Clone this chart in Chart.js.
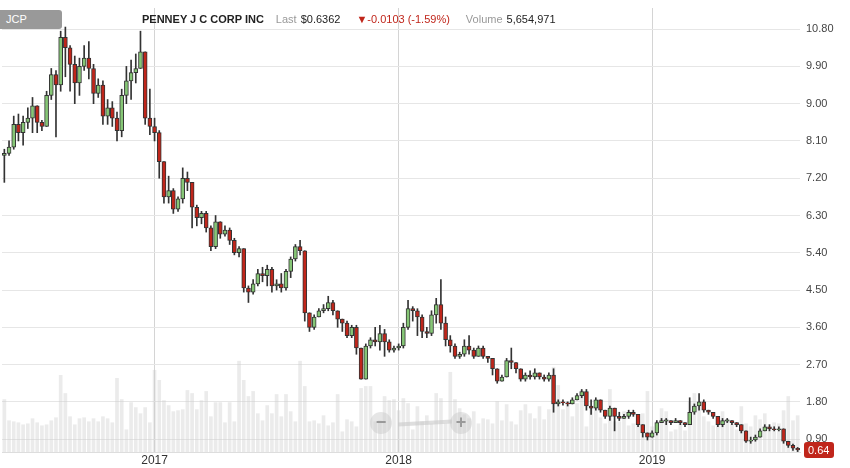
<!DOCTYPE html>
<html>
<head>
<meta charset="utf-8">
<script src="https://cdn.jsdelivr.net/npm/chart.js@4/dist/chart.umd.min.js"></script>
<style>
  body { margin: 0; background: #fff; font-family: "Liberation Sans", Arial, sans-serif; }
  #wrap { position: relative; width: 850px; height: 468px; }
  #hdr { position: absolute; top: 10px; left: 0; width: 850px; height: 20px; font-size: 11px; line-height: 19px; color: #222; pointer-events: none; }
  #tab { position: absolute; left: 0; top: 0; width: 62px; height: 19px; background: #999; color: #fff; border-radius: 0 3px 3px 0; padding-left: 6px; box-sizing: border-box; }
  #info { position: absolute; left: 142px; top: 0; white-space: nowrap; }
  .g { color: #999; margin: 0 4px 0 12px; }
  .dn { color: #c0261b; margin-left: 16px; }
  #zoomctl { position: absolute; left: 370px; top: 412px; width: 110px; height: 24px; pointer-events: none; }
  .zb { position: absolute; top: 0; width: 22px; height: 22px; border-radius: 11px; background: rgba(200,200,200,0.45); color: #999; font-size: 18px; line-height: 21px; text-align: center; font-weight: bold; }
  #bar { position: absolute; left: 28px; top: 9px; width: 54px; height: 4px; background: rgba(200,200,200,0.6); transform: skewY(-3deg); }
</style>
</head>
<body>
<div id="wrap">
  <canvas id="chart" width="850" height="468"></canvas>
  <div id="hdr">
    <div id="tab">JCP</div>
    <div id="info"><b>PENNEY J C CORP INC</b><span class="g">Last</span>$0.6362<span class="dn">▼-0.0103 (-1.59%)</span><span class="g" style="margin-left:16px">Volume</span>5,654,971</div>
  </div>
  <div id="zoomctl"><div class="zb" style="left:0">−</div><div id="bar"></div><div class="zb" style="left:80px">+</div></div>
</div>
<script>
// weekly candles, Jun 2016 - Jul 2019
const closes = [
  7.8,7.95,8.5,8.3,8.55,8.65,8.95,8.55,8.45,9.2,
  9.7,9.45,10.6,10.35,9.95,9.5,9.9,10.1,9.85,9.25,
  9.45,8.7,8.9,8.65,8.35,9.2,9.55,9.75,9.85,10.25,
  8.65,8.45,8.3,7.6,6.75,6.9,6.45,6.7,7.2,7.1,
  6.5,6.25,6.35,6.0,5.55,6.15,5.85,5.95,5.7,5.4,
  5.5,4.55,4.45,4.65,4.9,4.85,5.0,4.6,4.65,4.55,
  4.95,5.25,5.55,5.45,3.95,3.6,3.85,4.0,4.05,4.2,
  4.0,3.8,3.7,3.4,3.6,3.1,2.35,3.15,3.3,3.25,
  3.45,3.25,3.05,3.1,3.15,3.6,4.05,4.0,3.85,3.5,
  3.45,3.9,4.15,3.7,3.3,3.15,2.9,2.95,3.15,3.05,
  2.9,3.1,2.9,2.85,2.6,2.3,2.4,2.8,2.75,2.6,
  2.35,2.45,2.4,2.5,2.4,2.35,2.45,1.75,1.8,1.78,
  1.75,1.85,1.95,2.05,1.7,1.65,1.85,1.6,1.45,1.65,
  1.45,1.4,1.45,1.55,1.5,1.25,1.05,0.95,1.05,1.3,
  1.35,1.35,1.3,1.35,1.3,1.25,1.55,1.7,1.8,1.6,
  1.55,1.45,1.25,1.35,1.35,1.3,1.25,1.1,0.85,0.88,
  0.95,1.1,1.2,1.15,1.13,1.15,0.85,0.75,0.68,0.64
];
const highs = [
  7.9,8.1,8.7,8.75,8.7,8.9,9.15,8.95,8.6,9.3,
  9.85,9.8,10.75,10.85,10.4,10.15,10.1,10.4,10.5,9.95,
  9.6,9.55,9.1,9.05,8.8,9.35,9.9,10.05,10.2,10.75,
  10.25,9.35,8.65,8.35,7.6,7.25,6.95,6.75,7.45,7.35,
  7.1,6.55,6.4,6.4,6.05,6.3,6.15,6.05,6.0,5.75,
  5.55,5.5,4.6,4.75,5.0,5.05,5.1,5.05,4.75,4.9,
  5.0,5.3,5.6,5.7,5.45,3.95,3.9,4.05,4.15,4.35,
  4.25,4.0,3.8,3.75,3.65,3.65,3.1,3.2,3.35,3.6,
  3.65,3.55,3.3,3.15,3.2,3.7,4.25,4.1,4.05,3.9,
  3.6,4.0,4.3,4.75,3.85,3.4,3.2,3.0,3.3,3.4,
  3.1,3.15,3.15,2.9,2.85,2.6,2.45,2.85,3.1,2.75,
  2.6,2.5,2.55,2.6,2.5,2.45,2.5,2.6,1.85,1.85,
  1.8,1.9,2.0,2.1,2.1,1.85,1.9,1.85,1.6,1.7,
  1.65,1.55,1.5,1.6,1.6,1.5,1.25,1.05,1.1,1.35,
  1.4,1.4,1.35,1.4,1.35,1.3,1.9,1.75,2.0,1.85,
  1.6,1.55,1.45,1.4,1.4,1.35,1.3,1.25,1.1,0.95,
  1.0,1.15,1.25,1.25,1.2,1.2,1.15,0.85,0.78,0.7
];
const lows = [
  7.1,7.75,7.9,8.1,8.0,8.4,8.3,8.3,8.35,8.45,
  9.1,8.2,9.3,9.65,9.3,9.0,9.2,9.8,9.6,9.0,
  9.15,8.5,8.5,8.45,8.1,8.2,9.0,9.1,9.5,9.85,
  8.5,8.25,8.1,7.2,6.6,6.6,6.35,6.4,6.6,6.9,
  6.0,6.05,6.1,5.9,5.45,5.5,5.75,5.8,5.6,5.35,
  5.3,4.45,4.2,4.4,4.6,4.7,4.6,4.45,4.5,4.45,
  4.5,4.8,5.2,5.35,3.75,3.5,3.55,3.85,3.95,4.0,
  3.9,3.6,3.5,3.35,3.35,2.95,2.35,2.35,3.1,3.15,
  3.05,2.9,3.0,3.0,3.05,3.1,3.55,3.75,3.4,3.35,
  3.35,3.4,3.7,3.55,3.15,3.0,2.85,2.85,2.9,2.95,
  2.85,2.9,2.85,2.75,2.45,2.25,2.3,2.4,2.6,2.5,
  2.3,2.3,2.35,2.35,2.35,2.3,2.3,1.55,1.7,1.72,
  1.7,1.75,1.85,1.9,1.6,1.5,1.6,1.55,1.4,1.35,
  1.1,1.35,1.4,1.4,1.45,1.2,0.95,0.88,0.95,1.0,
  1.3,1.25,1.25,1.3,1.25,1.2,1.25,1.5,1.6,1.55,
  1.5,1.4,1.2,1.2,1.3,1.25,1.2,1.05,0.82,0.8,
  0.85,0.95,1.1,1.1,1.1,1.1,0.8,0.7,0.63,0.6
];
const firstOpen = 7.75;
// relative weekly volume
const volumes = [
  52,31,30,29,27,28,33,29,26,27,
  31,34,76,58,35,27,33,34,30,33,
  30,35,33,29,73,52,22,49,44,38,
  44,29,81,71,51,46,40,41,42,61,
  58,42,51,60,35,49,49,29,49,30,
  90,71,55,60,38,31,46,38,57,35,
  57,40,30,90,65,30,31,28,36,26,
  29,57,20,32,30,25,63,65,65,30,
  31,55,51,52,41,53,48,22,45,30,
  36,28,58,53,28,79,52,43,37,33,
  40,28,33,32,28,50,31,47,30,27,
  41,47,38,33,45,32,42,84,66,42,
  50,35,48,61,25,45,46,34,28,62,
  30,30,40,26,28,28,38,60,25,30,
  43,40,20,22,28,21,50,58,45,35,
  30,26,30,40,32,28,22,45,28,25,
  36,32,38,22,29,28,41,55,31,36
];
const yearTicks = { 32: '2017', 84: '2018', 138: '2019' };
const priceTicks = [0.90, 1.80, 2.70, 3.60, 4.50, 5.40, 6.30, 7.20, 8.10, 9.00, 9.90, 10.80];

const opens = closes.map((c, i) => i === 0 ? firstOpen : closes[i - 1]);
const labels = closes.map((c, i) => i);
const up = closes.map((c, i) => c >= opens[i]);
const GREEN = '#86c676', RED = '#c0261b';

const lastTag = {
  id: 'lastTag',
  afterDraw(chart) {
    const y = chart.scales.y.getPixelForValue(closes[closes.length - 1]);
    const ctx = chart.ctx, x = chart.chartArea.right + 4;
    ctx.save();
    ctx.fillStyle = RED;
    ctx.beginPath();
    ctx.roundRect(x, y - 8, 30, 16, 3);
    ctx.fill();
    ctx.fillStyle = '#fff';
    ctx.font = '11px "Liberation Sans", Arial';
    ctx.textBaseline = 'middle';
    ctx.fillText(closes[closes.length - 1].toFixed(2), x + 4, y + 1);
    ctx.restore();
  }
};

new Chart(document.getElementById('chart'), {
  type: 'bar',
  data: {
    labels: labels,
    datasets: [
      {
        label: 'Wick',
        data: closes.map((c, i) => [lows[i], highs[i]]),
        backgroundColor: '#333',
        barThickness: 1,
        yAxisID: 'y',
        order: 2
      },
      {
        label: 'Body',
        data: closes.map((c, i) => opens[i] === c ? [c - 0.015, c + 0.015] : [opens[i], c]),
        backgroundColor: up.map(u => u ? GREEN : RED),
        borderColor: '#333',
        borderWidth: 1,
        borderSkipped: false,
        barThickness: 4,
        yAxisID: 'y',
        order: 1
      },
      {
        label: 'Volume',
        data: volumes,
        backgroundColor: 'rgba(205,205,205,0.4)',
        barThickness: 3,
        yAxisID: 'vol',
        order: 3
      }
    ]
  },
  options: {
    responsive: false,
    animation: false,
    grouped: false,
    layout: { padding: { top: 8, left: 2, right: 0, bottom: 0 } },
    plugins: { legend: { display: false }, tooltip: { enabled: false } },
    scales: {
      x: {
        offset: true,
        afterFit: s => { s.height = 16; },
        grid: {
          offset: false,
          color: ctx => yearTicks[ctx.index] ? '#d4d4d4' : 'rgba(0,0,0,0)',
          drawTicks: false
        },
        border: { color: '#ddd' },
        ticks: {
          autoSkip: false, maxRotation: 0, padding: 1,
          color: '#333', font: { size: 12, family: '"Liberation Sans", Arial' },
          callback: (v, i) => yearTicks[i] || ''
        }
      },
      y: {
        position: 'right',
        min: 0.59, max: 11.31,
        afterBuildTicks: s => { s.ticks = priceTicks.map(v => ({ value: v })); },
        afterFit: s => { s.width = 50; s.paddingTop = 0; s.paddingBottom = 0; },
        grid: { color: '#e6e6e6', drawTicks: false },
        border: { display: false },
        ticks: {
          padding: 6, color: '#444', font: { size: 11, family: '"Liberation Sans", Arial' },
          callback: v => v.toFixed(2)
        }
      },
      vol: {
        display: false,
        min: 0, max: 440
      }
    }
  },
  plugins: [lastTag]
});
</script>
</body>
</html>
